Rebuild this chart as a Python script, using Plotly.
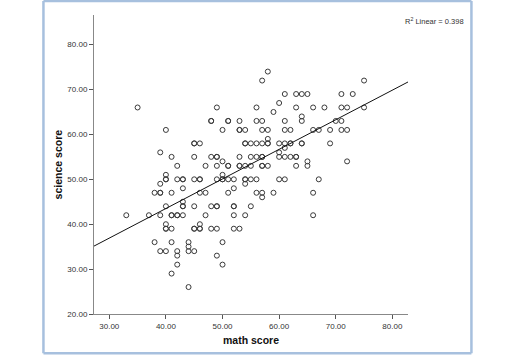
import numpy as np
import plotly.graph_objects as go

# science score level -> math scores of points at that level
science_levels = [74, 72, 69, 67, 66, 65, 64, 63, 61, 59, 58, 57, 56, 55, 54, 53, 51, 50,
                  49, 48, 47, 46, 45, 44, 42, 40, 39, 36, 35, 34, 33, 31, 29, 26]
math_by_level = [
    [58],
    [57, 75],
    [61, 63, 64, 65, 71, 73],
    [60],
    [35, 49, 56, 63, 66, 68, 71, 72, 75],
    [59],
    [64],
    [48, 48, 51, 51, 53, 56, 57, 61, 64, 70, 71],
    [40, 50, 53, 53, 54, 57, 58, 61, 62, 66, 67, 69, 71, 72],
    [58],
    [45, 45, 46, 54, 54, 55, 56, 57, 58, 58, 60, 61, 62, 62, 64, 64, 69],
    [61],
    [39, 60],
    [41, 45, 48, 49, 49, 53, 55, 56, 57, 57, 60, 61, 62, 63, 63],
    [50, 65, 72],
    [42, 47, 49, 51, 51, 53, 53, 54, 55, 57, 57, 58, 63, 65],
    [40, 50],
    [40, 40, 42, 43, 43, 45, 46, 46, 49, 50, 50, 51, 52, 54, 54, 55, 56, 60, 61, 67],
    [39, 54],
    [43, 52],
    [38, 39, 39, 41, 46, 47, 51, 56, 57, 59, 66],
    [57],
    [43],
    [40, 43, 43, 45, 48, 49, 49, 52, 52, 55],
    [33, 37, 39, 41, 41, 42, 42, 43, 47, 52, 54, 66],
    [40, 46],
    [40, 40, 41, 45, 45, 46, 46, 48, 49, 52, 53],
    [38, 41, 44, 50],
    [44],
    [39, 40, 42, 44, 45],
    [42, 49],
    [42, 50],
    [41],
    [44],
]

math = [m for lvl, ms in zip(science_levels, math_by_level) for m in ms]
science = [lvl for lvl, ms in zip(science_levels, math_by_level) for _ in ms]

x_ticks = [30, 40, 50, 60, 70, 80]
y_ticks = [20, 30, 40, 50, 60, 70, 80]
r2_text = "R<sup>2</sup> Linear = 0.398"

x_range = [27.3, 82.76]
y_range = [20, 86.6]

slope, intercept = np.polyfit(math, science, 1)
line_x = np.array(x_range)
line_y = intercept + slope * line_x

fig = go.Figure()
fig.add_trace(go.Scatter(
    x=math, y=science, mode="markers",
    marker=dict(symbol="circle-open", size=5, color="#3a3a3a", line=dict(width=1, color="#3a3a3a")),
    showlegend=False, hoverinfo="skip"))
fig.add_trace(go.Scatter(
    x=line_x, y=line_y, mode="lines",
    line=dict(color="#111111", width=1), showlegend=False, hoverinfo="skip"))

tickfont = dict(family="Liberation Sans, Arial, sans-serif", size=8, color="#333333")
border = dict(color="#A7C0DE", width=2.5)
bx0, bx1, by0, by1 = -0.161, 1.202, -0.131, 1.047
fig.update_layout(
    width=512, height=358,
    margin=dict(l=94, r=104, t=15, b=44),
    paper_bgcolor="white", plot_bgcolor="white",
    xaxis=dict(range=x_range, tickvals=x_ticks, tickformat=".2f", showgrid=False, zeroline=False,
               showline=True, linecolor="#888888", linewidth=1, ticks="outside", ticklen=4,
               tickcolor="#555555", tickfont=tickfont),
    yaxis=dict(range=y_range, tickvals=y_ticks, tickformat=".2f", showgrid=False, zeroline=False,
               showline=True, linecolor="#888888", linewidth=1, ticks="outside", ticklen=4,
               tickcolor="#555555", tickfont=tickfont),
    annotations=[
        dict(text="<b>math score</b>", xref="paper", yref="paper", x=0.5, y=-0.087,
             xanchor="center", yanchor="middle", showarrow=False,
             font=dict(family="Liberation Sans, Arial, sans-serif", size=10.5, color="#111111")),
        dict(text="<b>science score</b>", xref="paper", yref="paper", x=-0.115, y=0.5,
             xanchor="center", yanchor="middle", showarrow=False, textangle=-90,
             font=dict(family="Liberation Sans, Arial, sans-serif", size=10.5, color="#111111")),
        dict(text=r2_text, xref="paper", yref="paper", x=1.185, y=0.98,
             xanchor="right", yanchor="middle", showarrow=False,
             font=dict(family="Liberation Sans, Arial, sans-serif", size=7.5, color="#333333")),
    ],
    shapes=[
        dict(type="line", xref="paper", yref="paper", x0=bx0, x1=bx1, y0=by1, y1=by1, line=border, layer="above"),
        dict(type="line", xref="paper", yref="paper", x0=bx0, x1=bx1, y0=by0, y1=by0, line=border, layer="above"),
        dict(type="line", xref="paper", yref="paper", x0=bx0, x1=bx0, y0=by0, y1=by1, line=border, layer="above"),
        dict(type="line", xref="paper", yref="paper", x0=bx1, x1=bx1, y0=by0, y1=by1, line=border, layer="above"),
    ],
)

fig.write_html(
    "out.html",
    config={"displayModeBar": False, "staticPlot": True},
    post_script="document.body.style.margin='0';document.body.style.padding='0';"
                "document.body.style.overflow='hidden';",
)
